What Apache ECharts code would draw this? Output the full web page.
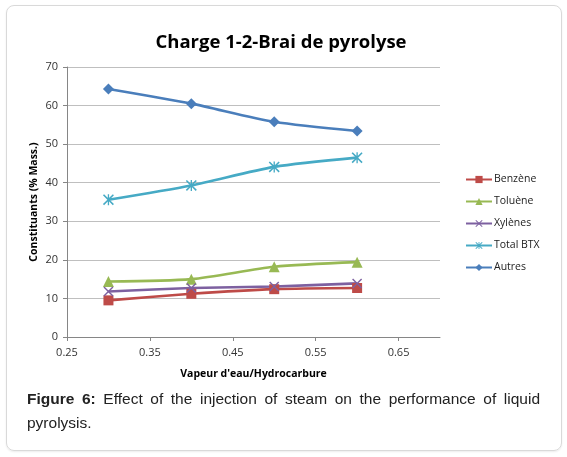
<!DOCTYPE html>
<html>
<head>
<meta charset="utf-8">
<script src="https://cdn.jsdelivr.net/npm/echarts@6/dist/echarts.min.js"></script>
<style>
  body { margin: 0; background: #fff; }
  #card {
    position: absolute; left: 6px; top: 5px; width: 554px; height: 444px;
    border: 1px solid #d9d9d9; border-radius: 8px; box-shadow: 0 1px 2px rgba(0,0,0,0.08);
  }
  #chart { position: absolute; left: 0; top: 0; width: 567px; height: 390px; }
  #caption {
    position: absolute; left: 27px; top: 387px; width: 513px;
    font-family: 'Liberation Sans', Arial, sans-serif; font-size: 15.5px; line-height: 24px;
    color: #222; text-align: justify;
  }
</style>
</head>
<body>
<div id="card"></div>
<div id="chart"></div>
<div id="caption"><b>Figure 6:</b> Effect of the injection of steam on the performance of liquid pyrolysis.</div>
<script>
// rapport vapeur d'eau / hydrocarbure
const ratios = [0.3, 0.4, 0.5, 0.6]
const benzene = [9.5, 11.2, 12.4, 12.7]
const toluene = [14.4, 15.0, 18.2, 19.4]
const xylenes = [11.8, 12.7, 13.1, 13.9]
const totalBtx = [35.6, 39.3, 44.1, 46.5]
const autres = [64.3, 60.5, 55.8, 53.4]
const xTicks = [0.25, 0.35, 0.45, 0.55, 0.65]

const FONT = 'Open Sans'
const crossPath = 'path://M0,1L1,0L5,4L9,0L10,1L6,5L10,9L9,10L5,6L1,10L0,9L4,5Z'
const starPath = 'path://M0,1L1,0L5,4L9,0L10,1L6,5L10,9L9,10L5,6L1,10L0,9L4,5ZM4.4,0L5.6,0L5.6,10L4.4,10Z'

function pairs(vals) {
  return vals.map((v, i) => [ratios[i], v])
}

function makeSeries(name, vals, color, symbol, size) {
  return {
    name: name,
    type: 'line',
    data: pairs(vals),
    smooth: 0.25,
    symbol: symbol,
    symbolSize: size,
    showAllSymbol: true,
    lineStyle: { color: color, width: 2.6 },
    itemStyle: { color: color }
  }
}

const chart = echarts.init(document.getElementById('chart'))
chart.setOption({
  animation: false,
  backgroundColor: 'transparent',
  title: {
    text: 'Charge 1-2-Brai de pyrolyse',
    left: 276,
    textAlign: 'center',
    top: 28,
    textStyle: { fontFamily: FONT, fontWeight: 'bold', fontSize: 18.5, color: '#000' }
  },
  grid: { left: 67, top: 67, right: 127, bottom: 53 },
  legend: {
    orient: 'vertical',
    left: 465,
    top: 174,
    padding: 0,
    itemGap: 11,
    itemWidth: 26,
    itemHeight: 9,
    textStyle: { fontFamily: FONT, fontSize: 10.5, color: '#222', padding: [0, 0, 0, -3] },
    data: ['Benzène', 'Toluène', 'Xylènes', 'Total BTX', 'Autres']
  },
  xAxis: {
    type: 'value',
    min: 0.25,
    max: 0.7,
    interval: 0.1,
    name: "Vapeur d'eau/Hydrocarbure",
    nameLocation: 'middle',
    nameGap: 32,
    nameMoveOverlap: false,
    nameTextStyle: { fontFamily: FONT, fontWeight: 'bold', fontSize: 10.5, color: '#000' },
    axisLine: { lineStyle: { color: '#868686' } },
    axisTick: { show: true, length: 4, inside: false, customValues: xTicks, lineStyle: { color: '#868686' } },
    axisLabel: { customValues: xTicks, formatter: v => v.toFixed(2), fontFamily: FONT, fontSize: 11, color: '#333', margin: 10 },
    splitLine: { show: false }
  },
  yAxis: {
    type: 'value',
    min: 0,
    max: 70,
    interval: 10,
    name: 'Constituants (% Mass.)',
    nameLocation: 'middle',
    nameGap: 27,
    nameMoveOverlap: false,
    nameTextStyle: { fontFamily: FONT, fontWeight: 'bold', fontSize: 10.5, color: '#000' },
    axisLine: { show: true, lineStyle: { color: '#868686' } },
    axisTick: { show: true, length: 4, lineStyle: { color: '#868686' } },
    axisLabel: { fontFamily: FONT, fontSize: 11, color: '#333', margin: 9 },
    splitLine: { lineStyle: { color: '#bfbfbf', width: 1 } }
  },
  series: [
    makeSeries('Benzène', benzene, '#BE4B48', 'rect', 10),
    makeSeries('Toluène', toluene, '#98B954', 'triangle', 11),
    makeSeries('Xylènes', xylenes, '#7D60A0', crossPath, 10),
    makeSeries('Total BTX', totalBtx, '#46AAC5', starPath, 11),
    makeSeries('Autres', autres, '#4A7EBB', 'diamond', 11)
  ]
})
</script>
</body>
</html>
